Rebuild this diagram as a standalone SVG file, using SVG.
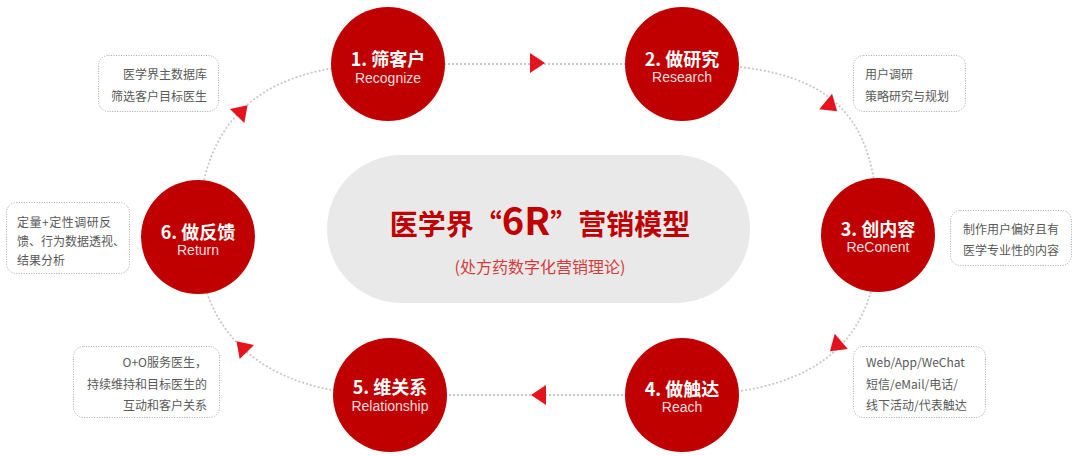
<svg xmlns="http://www.w3.org/2000/svg" width="1080" height="456" viewBox="0 0 1080 456">
<style>
.node circle{fill:#c00000}
.t{font-family:"Noto Sans CJK SC","Microsoft YaHei",sans-serif;font-weight:bold;font-size:18px;fill:#ffffff;text-anchor:middle}
.s{font-family:"Liberation Sans","Noto Sans",sans-serif;font-size:14px;fill:#f7dede;text-anchor:middle}
.box rect{fill:#ffffff;stroke:#a6a6a6;stroke-width:1;stroke-dasharray:1 1.5}
.bt{font-family:"Noto Sans CJK SC",sans-serif;font-size:12px;fill:#595959}
.r{text-anchor:end}
.link{fill:none;stroke:#c8c8c8;stroke-width:1.8;stroke-dasharray:2 2}
.arr{fill:#e3141e}
</style>
<defs>
<path id="ah" d="M8,0 L-7,-10 L-7,10 Z"/>
</defs>
<rect width="1080" height="456" fill="#ffffff"/>
<g id="connectors">
<path class="link" d="M388,64 L682,64 C830,64 878,110 878,235 C878,325 835,395 682,395 L390,395 C250,395 198,320 198,237 C198,130 250,64 388,64 Z"/>
<use href="#ah" class="arr" transform="translate(537,63)"/>
<use href="#ah" class="arr" transform="translate(831,106) rotate(40)"/>
<use href="#ah" class="arr" transform="translate(836,346) rotate(139)"/>
<use href="#ah" class="arr" transform="translate(539,395) rotate(180)"/>
<use href="#ah" class="arr" transform="translate(242,347) rotate(-134)"/>
<use href="#ah" class="arr" transform="translate(242,111) rotate(-46)"/>
</g>
<g id="center">
<rect x="327" y="155" width="423" height="148" rx="74" fill="#e9e9e9"/>
<text x="540" y="235" text-anchor="middle" font-family="Noto Sans CJK SC, sans-serif" font-weight="bold" font-size="28" fill="#c00000">医学界“<tspan font-size="38">6R</tspan>”营销模型</text>
<text x="540" y="273" text-anchor="middle" font-family="Noto Sans CJK SC, sans-serif" font-size="16" fill="#d23c3c">(处方药数字化营销理论)</text>
</g>
<g id="n1" class="node"><circle cx="388" cy="64" r="57"/><text class="t" x="388" y="66">1. 筛客户</text><text class="s" x="388" y="83">Recognize</text></g>
<g id="n2" class="node"><circle cx="682" cy="64" r="57"/><text class="t" x="682" y="66">2. 做研究</text><text class="s" x="682" y="82">Research</text></g>
<g id="n3" class="node"><circle cx="878" cy="235" r="57"/><text class="t" x="878" y="236">3. 创内容</text><text class="s" x="878" y="252">ReConent</text></g>
<g id="n4" class="node"><circle cx="682" cy="395" r="57"/><text class="t" x="682" y="396">4. 做触达</text><text class="s" x="682" y="412">Reach</text></g>
<g id="n5" class="node"><circle cx="390" cy="395" r="57"/><text class="t" x="390" y="394">5. 维关系</text><text class="s" x="390" y="411">Relationship</text></g>
<g id="n6" class="node"><circle cx="198" cy="237" r="57"/><text class="t" x="198" y="239">6. 做反馈</text><text class="s" x="198" y="255">Return</text></g>
<g id="b1" class="box"><rect x="98.5" y="55.5" width="120" height="56" rx="10"/><text class="bt r" x="207" y="79">医学界主数据库</text><text class="bt r" x="207" y="101">筛选客户目标医生</text></g>
<g id="b2" class="box"><rect x="853.5" y="55.5" width="112" height="56" rx="10"/><text class="bt" x="865" y="79">用户调研</text><text class="bt" x="865" y="101">策略研究与规划</text></g>
<g id="b3" class="box"><rect x="950.5" y="210.5" width="121" height="55" rx="10"/><text class="bt" x="963" y="234">制作用户偏好且有</text><text class="bt" x="963" y="255">医学专业性的内容</text></g>
<g id="b4" class="box"><rect x="853.5" y="346.5" width="132" height="71" rx="10"/><text class="bt" x="866" y="367">Web/App/WeChat</text><text class="bt" x="866" y="389">短信/eMail/电话/</text><text class="bt" x="866" y="410">线下活动/代表触达</text></g>
<g id="b5" class="box"><rect x="73.5" y="346.5" width="146" height="71" rx="10"/><text class="bt r" x="207" y="367">O+O服务医生，</text><text class="bt r" x="207" y="389">持续维持和目标医生的</text><text class="bt r" x="207" y="410">互动和客户关系</text></g>
<g id="b6" class="box"><rect x="6.5" y="202.5" width="123" height="71" rx="10"/><text class="bt" x="17" y="227" letter-spacing="0.5">定量+定性调研反</text><text class="bt" x="17" y="246">馈、行为数据透视、</text><text class="bt" x="17" y="265">结果分析</text></g>
</svg>
